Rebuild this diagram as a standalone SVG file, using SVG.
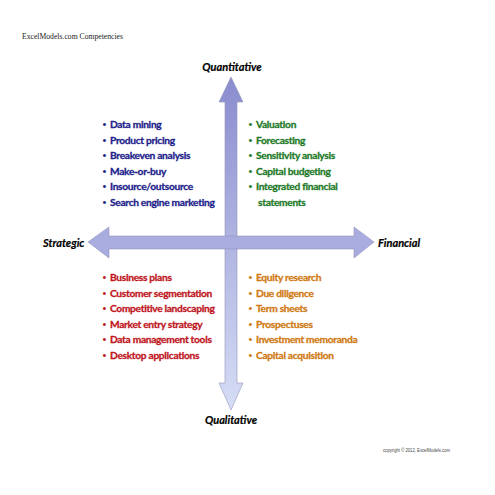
<svg xmlns="http://www.w3.org/2000/svg" width="495" height="495" viewBox="0 0 495 495">
<defs>
<linearGradient id="vg" x1="0" y1="77" x2="0" y2="410" gradientUnits="userSpaceOnUse">
<stop offset="0" stop-color="#8a8cce"/>
<stop offset="1" stop-color="#d6ddf5"/>
</linearGradient>
<style>
.q{font-family:Lato,"Liberation Sans",sans-serif;font-weight:bold;font-size:10.2px;letter-spacing:-0.3px;stroke-width:0.3px}
.b{font-family:"Liberation Sans",sans-serif;font-size:11px}
.ax{font-family:Lato,"Liberation Sans",sans-serif;font-weight:bold;font-style:italic;font-size:11px;fill:#000;stroke:#000;stroke-width:0.2px}
.tl{fill:#22228a;stroke:#22228a}.tr{fill:#1e7a28;stroke:#1e7a28}.bl{fill:#c0161e;stroke:#c0161e}.br{fill:#d07a14;stroke:#d07a14}
.b{stroke:none}
</style>
</defs>
<rect width="495" height="495" fill="#fff"/>
<text x="22" y="39" font-family="'Liberation Serif',serif" font-size="8.5" textLength="101" lengthAdjust="spacingAndGlyphs" fill="#222">ExcelModels.com Competencies</text>
<g id="connectors">
<polygon id="vertical-axis" points="231,77 243,102 237,102 237,383 243,383 231,410 219,383 225,383 225,102 219,102" fill="url(#vg)" stroke="#9496bb" stroke-width="0.6"/>
<polygon id="horizontal-axis" points="88,242 109,227 109,236 354,236 354,227 374,242 354,258 354,249 109,249 109,258" fill="#a8acde" stroke="#9496bb" stroke-width="0.6"/>
</g>
<g id="label-quantitative"><text class="ax" x="232" y="71" text-anchor="middle">Quantitative</text></g>
<g id="label-qualitative"><text class="ax" x="231" y="424" text-anchor="middle">Qualitative</text></g>
<g id="label-strategic"><text class="ax" x="43" y="247">Strategic</text></g>
<g id="label-financial"><text class="ax" x="378" y="247">Financial</text></g>
<g id="quadrant-top-left">
<g class="b tl"><text x="102.5" y="128">•</text><text x="102.5" y="143.6">•</text><text x="102.5" y="159.2">•</text><text x="102.5" y="174.8">•</text><text x="102.5" y="190.4">•</text><text x="102.5" y="206">•</text></g>
<text class="q tl" x="110" y="128">Data mining</text>
<text class="q tl" x="110" y="143.6">Product pricing</text>
<text class="q tl" x="110" y="159.2">Breakeven analysis</text>
<text class="q tl" x="110" y="174.8">Make-or-buy</text>
<text class="q tl" x="110" y="190.4">Insource/outsource</text>
<text class="q tl" x="110" y="206">Search engine marketing</text>
</g>
<g id="quadrant-top-right">
<g class="b tr"><text x="248.5" y="128">•</text><text x="248.5" y="143.6">•</text><text x="248.5" y="159.2">•</text><text x="248.5" y="174.8">•</text><text x="248.5" y="190.4">•</text></g>
<text class="q tr" x="256" y="128">Valuation</text>
<text class="q tr" x="256" y="143.6">Forecasting</text>
<text class="q tr" x="256" y="159.2">Sensitivity analysis</text>
<text class="q tr" x="256" y="174.8">Capital budgeting</text>
<text class="q tr" x="256" y="190.4">Integrated financial</text>
<text class="q tr" x="258" y="206">statements</text>
</g>
<g id="quadrant-bottom-left">
<g class="b bl"><text x="102.5" y="281">•</text><text x="102.5" y="296.6">•</text><text x="102.5" y="312.2">•</text><text x="102.5" y="327.8">•</text><text x="102.5" y="343.4">•</text><text x="102.5" y="359">•</text></g>
<text class="q bl" x="110" y="281">Business plans</text>
<text class="q bl" x="110" y="296.6">Customer segmentation</text>
<text class="q bl" x="110" y="312.2">Competitive landscaping</text>
<text class="q bl" x="110" y="327.8">Market entry strategy</text>
<text class="q bl" x="110" y="343.4">Data management tools</text>
<text class="q bl" x="110" y="359">Desktop applications</text>
</g>
<g id="quadrant-bottom-right">
<g class="b br"><text x="248.5" y="281">•</text><text x="248.5" y="296.6">•</text><text x="248.5" y="312.2">•</text><text x="248.5" y="327.8">•</text><text x="248.5" y="343.4">•</text><text x="248.5" y="359">•</text></g>
<text class="q br" x="256" y="281">Equity research</text>
<text class="q br" x="256" y="296.6">Due diligence</text>
<text class="q br" x="256" y="312.2">Term sheets</text>
<text class="q br" x="256" y="327.8">Prospectuses</text>
<text class="q br" x="256" y="343.4">Investment memoranda</text>
<text class="q br" x="256" y="359">Capital acquisition</text>
</g>
<text x="383" y="452" font-family="'Liberation Sans',sans-serif" font-size="4.5" textLength="67" lengthAdjust="spacingAndGlyphs" fill="#444">copyright © 2012, ExcelModels.com</text>
</svg>
